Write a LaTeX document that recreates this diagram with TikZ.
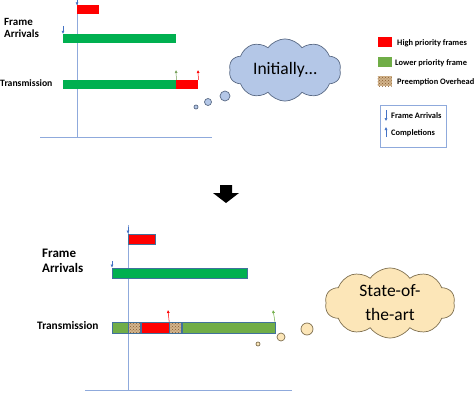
\documentclass[tikz,border=0pt]{standalone}
\usepackage{fontspec}
\setmainfont{Carlito}
\usetikzlibrary{shapes.symbols,patterns,arrows.meta}

\definecolor{axisblue}{HTML}{8FAADC}
\definecolor{arrblue}{HTML}{4472C4}
\definecolor{hired}{HTML}{FF0000}
\definecolor{lowgreen}{HTML}{00B050}
\definecolor{litegreen}{HTML}{70AD47}
\definecolor{ohtan}{HTML}{D2B48C}
\definecolor{barline}{HTML}{41719C}
\definecolor{cloudblue}{HTML}{B4C7E7}
\definecolor{cloudline}{HTML}{5A6A85}
\definecolor{cloudtan}{HTML}{FCE6B8}
\definecolor{tanline}{HTML}{7F7050}

\begin{document}
\begin{tikzpicture}[x=1pt, y=-1pt,
		bar_style/.style={rectangle,inner sep=0pt,anchor=west,minimum height=9pt},
		hi_style/.style={bar_style,fill=hired},
		lo_style/.style={bar_style,fill=lowgreen},
		tx_style/.style={bar_style,fill=litegreen},
		oh_style/.style={bar_style,preaction={fill=ohtan},pattern=crosshatch dots,pattern color=brown!70!black},
		edged/.style={draw=barline,line width=0.4pt,minimum height=10.5pt},
		axis_style/.style={draw=axisblue,line width=0.8pt},
		arr_in/.style={draw=arrblue,line width=0.5pt,-{Latex[length=3pt,width=3pt]}},
		arr_out/.style={line width=0.5pt,-{Latex[length=3pt,width=3pt]}},
		row_label/.style={anchor=west,align=left,inner sep=0pt,font=\bfseries},
		key_label/.style={anchor=west,inner sep=0pt,font=\bfseries\fontsize{8.4}{10}\selectfont},
		key_box/.style={rectangle,inner sep=0pt,minimum width=14pt,minimum height=10pt},
		cloud_style/.style={cloud,cloud puffs=10,cloud puff arc=110,inner sep=0pt,align=center,line width=0.7pt,font=\fontsize{17.5}{24}\selectfont},
		bubble/.style={circle,inner sep=0pt,line width=0.7pt}]

	\useasboundingbox (0,0) rectangle (474,412);

	% ---- initially ----
	\draw[axis_style] (77,0) -- (77,137);
	\draw[axis_style] (40,137) -- (212,137);

	\node[row_label,font=\bfseries\fontsize{11}{12.6}\selectfont] (t_arr) at (4,28) {Frame\\Arrivals};
	\node[row_label,font=\bfseries\fontsize{9.7}{11}\selectfont] (t_tx) at (0,83) {Transmission};

	\node[hi_style,minimum width=22pt] (t_hi) at (77,10) {};
	\node[lo_style,minimum width=113pt] (t_lo) at (63,38.5) {};
	\node[lo_style,minimum width=113pt] (t_tx_lo) at (63,84.5) {};
	\node[hi_style,minimum width=22pt] (t_tx_hi) at (176,84.5) {};

	\coordinate (t_hi_in) at (77,0);
	\coordinate (t_lo_in) at (63,26);
	\coordinate (t_lo_done) at (176,70);
	\coordinate (t_hi_done) at (198,70);
	\draw[arr_in] (t_hi_in) -- (t_hi.north west);
	\draw[arr_in] (t_lo_in) -- (t_lo.north west);
	\draw[arr_out,draw=litegreen!70!gray] (t_tx_lo.north east) -- (t_lo_done);
	\draw[arr_out,draw=hired] (t_tx_hi.north east) -- (t_hi_done);

	\node[cloud_style,fill=cloudblue,draw=cloudline,aspect=1.8,minimum width=112pt,minimum height=62pt] (c_init) at (285,70) {Initially…};
	\node[bubble,fill=cloudblue,draw=cloudline,minimum size=10pt] (b1) at (225,96) {};
	\node[bubble,fill=cloudblue,draw=cloudline,minimum size=7pt] (b2) at (208,102) {};
	\node[bubble,fill=cloudblue,draw=cloudline,minimum size=4pt] (b3) at (196,107) {};

	% ---- legend ----
	\node[key_box,fill=hired] (k_hi) at (384.5,42.5) {};
	\node[key_box,fill=litegreen] (k_lo) at (384.5,62) {};
	\node[key_box,preaction={fill=ohtan},pattern=crosshatch dots,pattern color=brown!70!black] (k_oh) at (384.5,81.5) {};
	\node[key_label] (l_hi) at (397,43) {High priority frames};
	\node[key_label] (l_lo) at (395,63) {Lower priority frame};
	\node[key_label] (l_oh) at (397,82) {Preemption Overhead};

	\draw[axisblue,line width=0.6pt,fill=white] (380,105) rectangle (446,147);
	\coordinate (k_in_top) at (386,110);
	\coordinate (k_in_end) at (386,121);
	\coordinate (k_out_bot) at (386,137);
	\coordinate (k_out_top) at (386,127);
	\draw[arr_in] (k_in_top) -- (k_in_end);
	\draw[arr_in] (k_out_bot) -- (k_out_top);
	\node[key_label] (l_in) at (391,116) {Frame Arrivals};
	\node[key_label] (l_out) at (391,133) {Completions};

	% ---- arrow between ----
	\fill[black] (220,185) -- (232,185) -- (232,193) -- (239,193) -- (226,203) -- (213,193) -- (220,193) -- cycle;

	% ---- state of the art ----
	\draw[axis_style] (128,225) -- (128,390);
	\draw[axis_style] (85,390) -- (292,390);

	\node[row_label,font=\bfseries\fontsize{13}{15}\selectfont] (s_arr) at (42,260.5) {Frame\\Arrivals};
	\node[row_label,font=\bfseries\fontsize{11.4}{13}\selectfont] (s_tx) at (37,326) {Transmission};

	\node[hi_style,edged,minimum width=27pt] (s_hi) at (128,239) {};
	\node[lo_style,edged,minimum width=135pt] (s_lo) at (112,273) {};
	\node[tx_style,edged,minimum width=16pt] (s_tx1) at (112,327.5) {};
	\node[oh_style,edged,minimum width=12pt] (s_oh1) at (s_tx1.east) {};
	\node[hi_style,edged,minimum width=28pt] (s_tx_hi) at (s_oh1.east) {};
	\node[oh_style,edged,minimum width=12pt] (s_oh2) at (s_tx_hi.east) {};
	\node[tx_style,edged,minimum width=93pt] (s_tx2) at (s_oh2.east) {};

	\coordinate (s_hi_in) at (128,227);
	\coordinate (s_lo_in) at (112,261);
	\coordinate (s_hi_done) at (168,310);
	\coordinate (s_lo_done) at (273,310);
	\draw[arr_in] (s_hi_in) -- (s_hi.north west);
	\draw[arr_in] (s_lo_in) -- (s_lo.north west);
	\draw[arr_out,draw=hired] (s_tx_hi.north east) -- (s_hi_done);
	\draw[arr_out,draw=litegreen] (s_tx2.north east) -- (s_lo_done);

	\node[cloud_style,fill=cloudtan,draw=tanline,aspect=1.8,minimum width=130pt,minimum height=70pt] (c_sota) at (390,303) {State-of-\\the-art};
	\node[bubble,fill=cloudtan,draw=tanline,minimum size=12pt] (d1) at (307,329) {};
	\node[bubble,fill=cloudtan,draw=tanline,minimum size=8pt] (d2) at (281,337) {};
	\node[bubble,fill=cloudtan,draw=tanline,minimum size=4pt] (d3) at (258,344) {};

\end{tikzpicture}
\end{document}
